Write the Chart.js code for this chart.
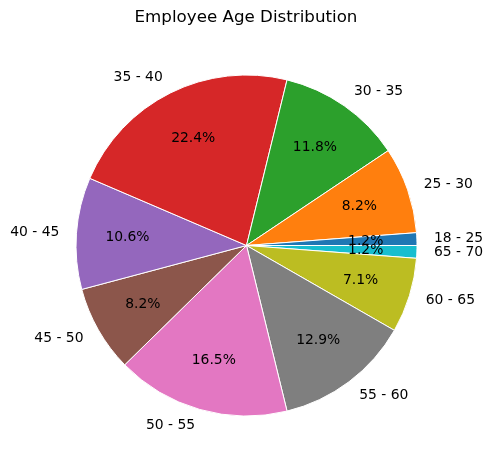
<!DOCTYPE html>
<html>
<head>
<meta charset="utf-8">
<script src="https://cdn.jsdelivr.net/npm/chart.js@4"></script>
<style>
  html, body { margin: 0; padding: 0; background: #fff; }
  canvas { display: block; }
</style>
</head>
<body>
<canvas id="chart" width="493" height="470"></canvas>
<script>
// matplotlib order (counter-clockwise from 3 o'clock)
const ageGroups = ["18 - 25", "25 - 30", "30 - 35", "35 - 40", "40 - 45",
  "45 - 50", "50 - 55", "55 - 60", "60 - 65", "65 - 70"];
const shares = [1.2, 8.2, 11.8, 22.4, 10.6, 8.2, 16.5, 12.9, 7.1, 1.2];
const sliceColors = ["#1f77b4", "#ff7f0e", "#2ca02c", "#d62728", "#9467bd",
  "#8c564b", "#e377c2", "#7f7f7f", "#bcbd22", "#17becf"];

const fontFamily = "'DejaVu Sans', sans-serif";

// Chart.js draws clockwise, so reverse everything to mimic matplotlib
const labels = ageGroups.slice().reverse();
const values = shares.slice().reverse();
const colors = sliceColors.slice().reverse();

const pieLabelsPlugin = {
  id: "pieLabelsPlugin",
  afterDatasetsDraw: (chart) => {
    const { ctx } = chart;
    const meta = chart.getDatasetMeta(0);
    const total = values.reduce((a, b) => a + b, 0);

    ctx.save();
    ctx.fillStyle = "#000";
    ctx.textBaseline = "middle";

    meta.data.forEach((arc, i) => {
      const { x, y, startAngle, endAngle, outerRadius } = arc.getProps(
        ["x", "y", "startAngle", "endAngle", "outerRadius"], true);
      const mid = (startAngle + endAngle) / 2;
      const cos = Math.cos(mid);
      const sin = Math.sin(mid);

      // percentage inside
      ctx.font = `13.9px ${fontFamily}`;
      ctx.textAlign = "center";
      const pct = (values[i] / total * 100).toFixed(1) + "%";
      ctx.fillText(pct, x + cos * outerRadius * 0.7, y + sin * outerRadius * 0.7);

      // category outside
      ctx.textAlign = cos > 0 ? "left" : "right";
      ctx.fillText(labels[i], x + cos * outerRadius * 1.1, y + sin * outerRadius * 1.1);
    });

    ctx.font = `16.7px ${fontFamily}`;
    ctx.textAlign = "center";
    ctx.fillText("Employee Age Distribution", 246, 18);
    ctx.restore();
  },
};

new Chart(document.getElementById("chart"), {
  type: "pie",
  data: {
    labels,
    datasets: [
      {
        data: values,
        backgroundColor: colors,
        borderColor: "#ffffff",
        borderWidth: 1,
        hoverOffset: 0,
      },
    ],
  },
  options: {
    responsive: false,
    animation: false,
    rotation: 90,
    layout: {
      padding: { left: 75.5, right: 75.5, top: 74.5, bottom: 53.5 },
    },
    plugins: {
      legend: { display: false },
      tooltip: { enabled: false },
      title: { display: false },
    },
  },
  plugins: [pieLabelsPlugin],
});
</script>
</body>
</html>
